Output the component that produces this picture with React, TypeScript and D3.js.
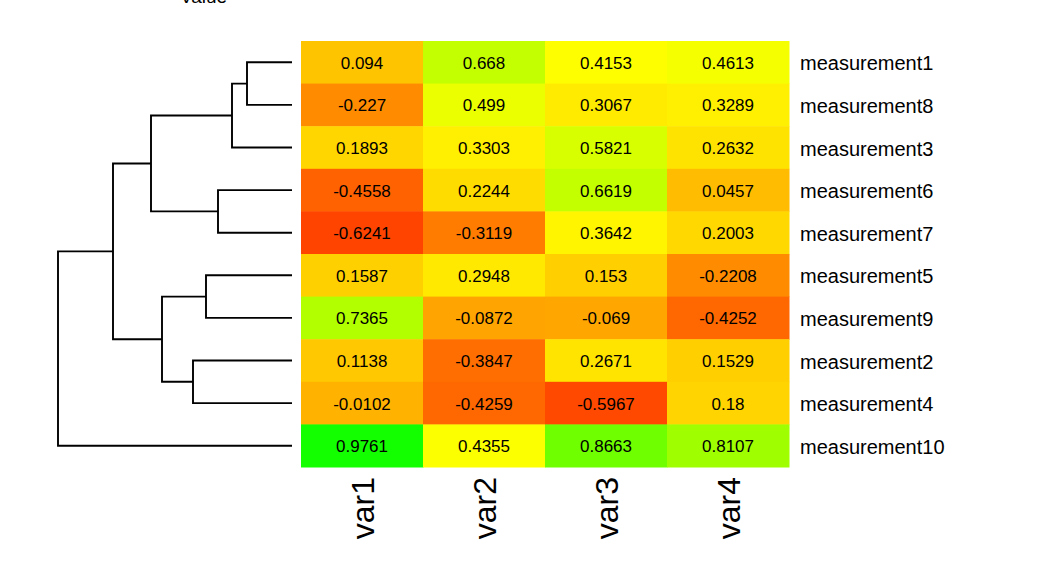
import React from "react";
import * as d3 from "d3";

const rowLabels = [
  "measurement1", "measurement8", "measurement3", "measurement6", "measurement7",
  "measurement5", "measurement9", "measurement2", "measurement4", "measurement10",
];
const colLabels = ["var1", "var2", "var3", "var4"];
const var1 = [0.094, -0.227, 0.1893, -0.4558, -0.6241, 0.1587, 0.7365, 0.1138, -0.0102, 0.9761];
const var2 = [0.668, 0.499, 0.3303, 0.2244, -0.3119, 0.2948, -0.0872, -0.3847, -0.4259, 0.4355];
const var3 = [0.4153, 0.3067, 0.5821, 0.6619, 0.3642, 0.153, -0.069, 0.2671, -0.5967, 0.8663];
const var4 = [0.4613, 0.3289, 0.2632, 0.0457, 0.2003, -0.2208, -0.4252, 0.1529, 0.18, 0.8107];
const columns = [var1, var2, var3, var4];

// dendrogram merges (hclust-like): children are leaf labels or earlier merge ids
const merges: { id: string; left: string; right: string; height: number }[] = [
  { id: "n1", left: "measurement1", right: "measurement8", height: 0.45 },
  { id: "n2", left: "n1", right: "measurement3", height: 0.6 },
  { id: "n3", left: "measurement6", right: "measurement7", height: 0.74 },
  { id: "n4", left: "n2", right: "n3", height: 1.41 },
  { id: "n5", left: "measurement5", right: "measurement9", height: 0.86 },
  { id: "n6", left: "measurement2", right: "measurement4", height: 0.99 },
  { id: "n7", left: "n5", right: "n6", height: 1.3 },
  { id: "n8", left: "n4", right: "n7", height: 1.79 },
  { id: "n9", left: "n8", right: "measurement10", height: 2.34 },
];

const W = 1040;
const H = 573;
const hm = { left: 301, right: 789, top: 41, bottom: 467 };

export default function App() {
  const x = d3.scaleBand<string>().domain(colLabels).range([hm.left, hm.right]);
  const y = d3.scaleBand<string>().domain(rowLabels).range([hm.top, hm.bottom]);
  const color = d3
    .scaleLinear<string>()
    .domain([-1, 0.42, 0.81, 0.98])
    .range(["#ff0000", "#ffff00", "#a0ff00", "#10ff00"])
    .clamp(true);
  const dx = d3.scaleLinear().domain([0, 2.34]).range([292, 58]);

  const pos: Record<string, { y: number; h: number }> = {};
  rowLabels.forEach((r) => (pos[r] = { y: (y(r) as number) + y.bandwidth() / 2, h: 0 }));
  const paths: string[] = [];
  merges.forEach((m) => {
    const a = pos[m.left];
    const b = pos[m.right];
    const mx = dx(m.height);
    const p = d3.path();
    p.moveTo(dx(a.h), a.y);
    p.lineTo(mx, a.y);
    p.lineTo(mx, b.y);
    p.lineTo(dx(b.h), b.y);
    paths.push(p.toString());
    pos[m.id] = { y: (a.y + b.y) / 2, h: m.height };
  });

  const font = "'Liberation Sans', Arial, Helvetica, sans-serif";

  return (
    <svg
      width={W}
      height={H}
      style={{ position: "absolute", left: 0, top: 0, background: "#fff" }}
      fontFamily={font}
    >
      <rect x={0} y={0} width={W} height={H} fill="#fff" />
      <text x={203.5} y={3} fontSize={19} textAnchor="middle" fill="#000">
        Value
      </text>
      {columns.map((vals, ci) =>
        vals.map((v, ri) => (
          <rect
            key={`c${ci}-${ri}`}
            x={x(colLabels[ci])}
            y={y(rowLabels[ri])}
            width={x.bandwidth() + 0.5}
            height={y.bandwidth() + 0.5}
            fill={color(v)}
          />
        ))
      )}
      {columns.map((vals, ci) =>
        vals.map((v, ri) => (
          <text
            key={`t${ci}-${ri}`}
            x={(x(colLabels[ci]) as number) + x.bandwidth() / 2}
            y={(y(rowLabels[ri]) as number) + y.bandwidth() / 2 + 6.5}
            fontSize={17}
            textAnchor="middle"
            fill="#000"
          >
            {String(v)}
          </text>
        ))
      )}
      {rowLabels.map((r) => (
        <text
          key={r}
          x={800}
          y={(y(r) as number) + y.bandwidth() / 2 + 8}
          fontSize={20}
          fill="#000"
        >
          {r}
        </text>
      ))}
      {colLabels.map((c) => {
        const cx = (x(c) as number) + x.bandwidth() / 2 + 11.5;
        return (
          <text
            key={c}
            transform={`translate(${cx},477) rotate(-90)`}
            fontSize={32}
            textAnchor="end"
            fill="#000"
          >
            {c}
          </text>
        );
      })}
      <g fill="none" stroke="#000" strokeWidth={1.9}>
        {paths.map((d, i) => (
          <path key={i} d={d} />
        ))}
      </g>
    </svg>
  );
}
